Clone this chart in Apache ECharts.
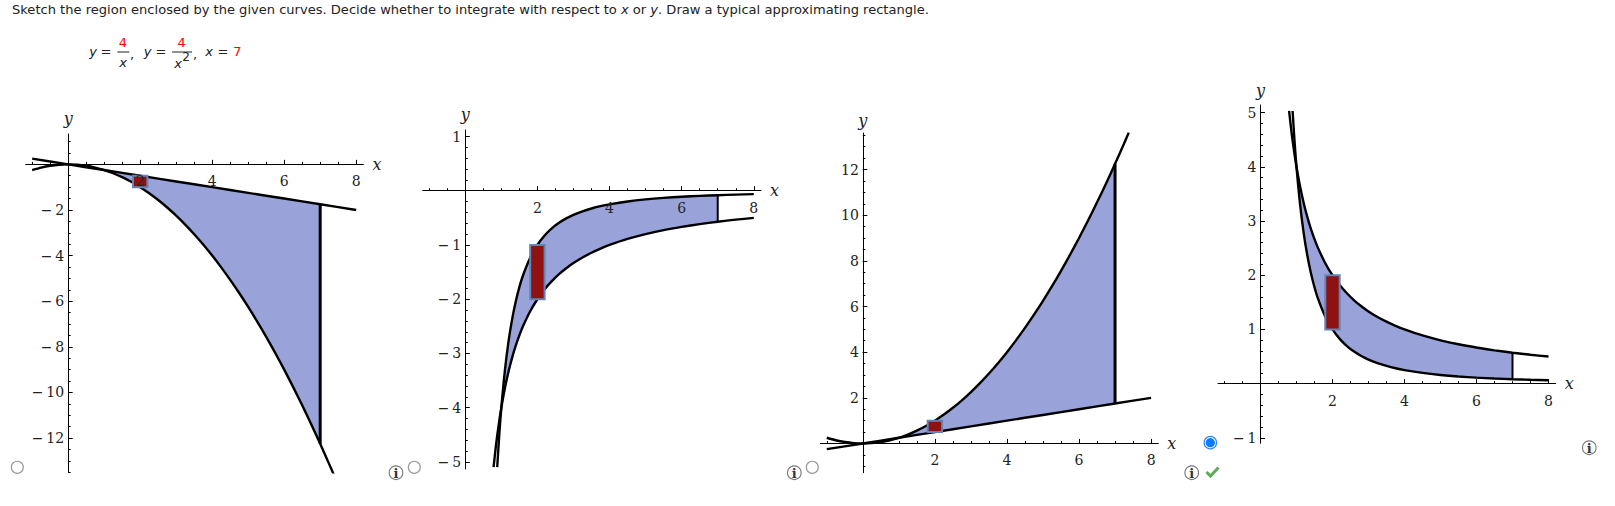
<!DOCTYPE html>
<html><head><meta charset="utf-8">
<style>html,body{margin:0;padding:0;background:#fff}#c{width:1615px;height:506px}</style>
<script src="https://cdn.jsdelivr.net/npm/echarts@6/dist/echarts.min.js"></script>
</head><body><div id="c"></div>
<script>
// ---- values ----
const parabolaX = [-1,-0.75,-0.5,-0.25,0,0.25,0.5,0.75,1,1.25,1.5,1.75,2,2.25,2.5,2.75,3,3.25,3.5,3.75,4,4.25,4.5,4.75,5,5.25,5.5,5.75,6,6.25,6.5,6.75,7,7.25,7.38];
const parabolaUp = [0.25,0.141,0.0625,0.016,0,0.016,0.0625,0.141,0.25,0.391,0.5625,0.766,1,1.266,1.5625,1.891,2.25,2.641,3.0625,3.516,4,4.516,5.0625,5.641,6.25,6.891,7.5625,8.266,9,9.766,10.5625,11.391,12.25,13.141,13.616];
const parabolaDown = [-0.25,-0.141,-0.0625,-0.016,0,-0.016,-0.0625,-0.141,-0.25,-0.391,-0.5625,-0.766,-1,-1.266,-1.5625,-1.891,-2.25,-2.641,-3.0625,-3.516,-4,-4.516,-5.0625,-5.641,-6.25,-6.891,-7.5625,-8.266,-9,-9.766,-10.5625,-11.391,-12.25,-13.141,-13.616];
const slopeX = [-1,0,1,2,3,4,5,6,7,8];
const slopeUp = [-0.25,0,0.25,0.5,0.75,1,1.25,1.5,1.75,2];
const slopeDown = [0.25,0,-0.25,-0.5,-0.75,-1,-1.25,-1.5,-1.75,-2];
const hyperUpX = [0.795,0.85,0.89,0.95,1,1.1,1.2,1.3,1.4,1.5,1.6,1.8,2,2.2,2.4,2.6,2.8,3,3.25,3.5,3.75,4,4.5,5,5.5,6,6.5,7,7.5,8];
const hyperUp = [5.03,4.706,4.494,4.211,4,3.636,3.333,3.077,2.857,2.667,2.5,2.222,2,1.818,1.667,1.538,1.429,1.333,1.231,1.143,1.067,1,0.889,0.8,0.727,0.667,0.615,0.571,0.533,0.5];
const hyperDownX = [0.785,0.85,0.89,0.95,1,1.1,1.2,1.3,1.4,1.5,1.6,1.8,2,2.2,2.4,2.6,2.8,3,3.25,3.5,3.75,4,4.5,5,5.5,6,6.5,7,7.5,8];
const hyperDown = [-5.096,-4.706,-4.494,-4.211,-4,-3.636,-3.333,-3.077,-2.857,-2.667,-2.5,-2.222,-2,-1.818,-1.667,-1.538,-1.429,-1.333,-1.231,-1.143,-1.067,-1,-0.889,-0.8,-0.727,-0.667,-0.615,-0.571,-0.533,-0.5];
const squareUpX = [0.892,0.95,1,1.1,1.2,1.3,1.4,1.5,1.6,1.8,2,2.2,2.4,2.6,2.8,3,3.25,3.5,3.75,4,4.5,5,5.5,6,6.5,7,7.5,8];
const squareUp = [5.03,4.432,4,3.306,2.778,2.367,2.041,1.778,1.5625,1.235,1,0.826,0.694,0.592,0.51,0.444,0.379,0.327,0.284,0.25,0.198,0.16,0.132,0.111,0.095,0.082,0.071,0.0625];
const squareDownX = [0.886,0.95,1,1.1,1.2,1.3,1.4,1.5,1.6,1.8,2,2.2,2.4,2.6,2.8,3,3.25,3.5,3.75,4,4.5,5,5.5,6,6.5,7,7.5,8];
const squareDown = [-5.096,-4.432,-4,-3.306,-2.778,-2.367,-2.041,-1.778,-1.5625,-1.235,-1,-0.826,-0.694,-0.592,-0.51,-0.444,-0.379,-0.327,-0.284,-0.25,-0.198,-0.16,-0.132,-0.111,-0.095,-0.082,-0.071,-0.0625];
const xLabels = [2,4,6,8];
const yLabels1 = [-12,-10,-8,-6,-4,-2];
const yLabels2 = [-5,-4,-3,-2,-1,1];
const yLabels3 = [2,4,6,8,10,12];
const yLabels4 = [-1,1,2,3,4,5];
const rect1 = [1.8,2.2,-1,-0.5];
const rect2 = [1.8,2.2,-2,-1];
const rect3 = [1.8,2.2,0.5,1];
const rect4 = [1.8,2.2,1,2];
const leftBound = 1, rightBound = 7;

const BLACK='#000', FILL='#99a3da', RED='#8f1212', EDGE='#6285b8';
const SERIF='"DejaVu Serif"', SANS='"DejaVu Sans"';

function ticks(a,b,s){const o=[];for(let v=a;v<=b+1e-9;v+=s)o.push(+v.toFixed(3));return o;}
const pairs=(xs,ys)=>xs.map((x,i)=>[x,ys[i]]);

const panels=[
 {left:25.7,top:134,w:337.7,h:338.3,yMin:-13.5,yMax:1.33,a:[parabolaX,parabolaDown],b:[slopeX,slopeDown],rect:rect1,yL:yLabels1,yMajor:ticks(-12,0,2),yMinor:ticks(-13.5,1,0.5),vw:3,lw:2.4,yGap:8},
 {left:422.7,top:130,w:338.3,h:339,yMin:-5.13,yMax:1.12,a:[hyperDownX,hyperDown],b:[squareDownX,squareDown],rect:rect2,yL:yLabels2,yMajor:ticks(-5,1,1),yMinor:ticks(-5,1,0.2),vw:2,lw:2.4,yGap:8},
 {left:820.3,top:133,w:338,h:339.7,yMin:-1.28,yMax:13.6,a:[parabolaX,parabolaUp],b:[slopeX,slopeUp],rect:rect3,yL:yLabels3,yMajor:ticks(0,12,2),yMinor:ticks(-1,13.5,0.5),vw:3,lw:2.4,yGap:5},
 {left:1218,top:105,w:337.7,h:338.3,yMin:-1.1,yMax:5.14,a:[hyperUpX,hyperUp],b:[squareUpX,squareUp],rect:rect4,yL:yLabels4,yMajor:ticks(-1,5,1),yMinor:ticks(-1,5,0.2),vw:2,lw:2.4,yGap:7}
];

const minus=v=>String(v).replace('-','\u2212\u2009');
const grid=[],xAxis=[],yAxis=[],series=[];
const xMin=-1.18,xMax=8.2;
panels.forEach((p,i)=>{
  const gi=grid.length;
  const g={left:p.left,top:p.top,width:p.w,height:p.h,containLabel:false,outerBoundsMode:'none'};
  grid.push(g,{...g});
  const belowZero=p.h*(-p.yMin)/(p.yMax-p.yMin);
  const leftOfZero=p.w*(-xMin)/(xMax-xMin);
  xAxis.push({
    type:'value',gridIndex:gi,min:xMin,max:xMax,z:10,splitLine:{show:false},
    name:'x',nameLocation:'end',nameGap:9,
    nameTextStyle:{fontFamily:SERIF,fontStyle:'italic',fontSize:16,color:'#222',verticalAlign:'middle',align:'left'},
    axisLine:{onZero:true,lineStyle:{color:BLACK,width:1}},
    axisTick:{show:true,inside:true,length:4.5,customValues:ticks(-1,8,1).filter(v=>v%2===0&&v!==0),lineStyle:{color:BLACK,width:1}},
    axisLabel:{show:true,customValues:xLabels,margin:10-belowZero,fontFamily:SERIF,fontSize:14,color:'#222',hideOverlap:false,formatter:minus}
  },{
    type:'value',gridIndex:gi+1,min:xMin,max:xMax,splitLine:{show:false},z:10,
    axisLine:{show:false,onZero:true},
    axisTick:{show:true,inside:true,length:2.5,customValues:ticks(-1,8,0.5).filter(v=>v!==0),lineStyle:{color:BLACK,width:1}},
    axisLabel:{show:false}
  });
  yAxis.push({
    type:'value',gridIndex:gi,min:p.yMin,max:p.yMax,z:10,splitLine:{show:false},
    name:'y',nameLocation:'end',nameGap:p.yGap,
    nameTextStyle:{fontFamily:SERIF,fontStyle:'italic',fontSize:16,color:'#222',align:'center',verticalAlign:'bottom'},
    axisLine:{onZero:true,lineStyle:{color:BLACK,width:1}},
    axisTick:{show:true,inside:true,length:4.5,customValues:p.yMajor.filter(v=>v!==0),lineStyle:{color:BLACK,width:1}},
    axisLabel:{show:true,customValues:p.yL,margin:4-leftOfZero,fontFamily:SERIF,fontSize:14,color:'#222',hideOverlap:false,formatter:minus}
  },{
    type:'value',gridIndex:gi+1,min:p.yMin,max:p.yMax,splitLine:{show:false},z:10,
    axisLine:{show:false,onZero:true},
    axisTick:{show:true,inside:true,length:2.5,customValues:p.yMinor.filter(v=>v!==0),lineStyle:{color:BLACK,width:1}},
    axisLabel:{show:false}
  });
  const inside=(c)=>pairs(c[0],c[1]).filter(q=>q[0]>=leftBound&&q[0]<=rightBound);
  const upper=inside(p.a), lower=inside(p.b);
  // shaded region between the two curves
  series.push({
    type:'custom',xAxisIndex:gi,yAxisIndex:gi,z:1,silent:true,clip:true,
    data:[[leftBound,0]],
    renderItem:(ps,api)=>({
      type:'polygon',
      shape:{points:upper.concat(lower.slice().reverse()).map(q=>api.coord(q))},
      style:{fill:FILL,stroke:null}
    })
  });
  const lineS=(d,w)=>({type:'line',xAxisIndex:gi,yAxisIndex:gi,z:3,silent:true,symbol:'none',smooth:0.25,clip:true,animation:false,
      lineStyle:{color:BLACK,width:w},data:d});
  series.push(lineS(pairs(p.a[0],p.a[1]),p.lw));
  series.push(lineS(pairs(p.b[0],p.b[1]),p.lw));
  // right-hand boundary x = 7
  const uy=upper[upper.length-1][1], ly=lower[lower.length-1][1];
  series.push({...lineS([[rightBound,uy],[rightBound,ly]],p.vw),smooth:false});
  // typical approximating rectangle
  series.push({
    type:'custom',xAxisIndex:gi,yAxisIndex:gi,z:4,silent:true,clip:false,
    data:[p.rect],encode:{x:[0,1],y:[2,3]},
    renderItem:(ps,api)=>{
      const a=api.coord([api.value(0),api.value(3)]), b=api.coord([api.value(1),api.value(2)]);
      return {type:'rect',shape:{x:a[0],y:a[1],width:b[0]-a[0],height:b[1]-a[1]},style:{fill:RED,stroke:EDGE,lineWidth:2}};
    }
  });
});

const T=(x,y,text,o={})=>({type:'text',x,y,z:50,silent:true,style:{text,fontFamily:SANS,fontSize:13,fill:'#222',align:'center',verticalAlign:'middle',...o}});
const L=(x1,x2,y,c='#222')=>({type:'line',z:50,silent:true,shape:{x1,y1:y,x2,y2:y},style:{stroke:c,lineWidth:1}});
const radio=(x,y)=>({type:'circle',z:50,silent:true,shape:{cx:x,cy:y,r:6},style:{fill:'#fff',stroke:'#9a9a9a',lineWidth:1.2}});
const info=(x,y)=>([
  {type:'circle',z:50,silent:true,shape:{cx:x,cy:y,r:6.8},style:{fill:'#fff',stroke:'#777',lineWidth:1.1}},
  T(x,y+0.5,'i',{fontFamily:SERIF,fontWeight:'bold',fontSize:13,fill:'#333'})
]);
const IT={fontStyle:'italic'}, RD={fill:'#f00'};
const graphic=[
  T(12,9,'Sketch the region enclosed by the given curves. Decide whether to integrate with respect to {i|x} or {i|y}. Draw a typical approximating rectangle.',
    {align:'left',fontSize:13.05,rich:{i:{fontStyle:'italic',fontFamily:SANS,fontSize:13.05,fill:'#222'}}}),
  T(93,51,'y',IT),T(106,51,'='),T(123,42,'4',RD),L(117.3,129.3,52),T(123,62,'x',IT),T(132,54,','),
  T(147.7,51,'y',IT),T(161,51,'='),T(181.7,42,'4',RD),L(172,192,52),T(178,63,'x',IT),T(186,57,'2',{fontSize:12}),T(195,54,','),
  T(209,51,'x',IT),T(223,51,'='),T(237.3,51,'7',RD),
  radio(17.3,467.3),radio(414.3,467.3),radio(812.3,467.3),
  {type:'circle',z:50,silent:true,shape:{cx:1210.3,cy:442.7,r:4.6},style:{fill:'#0a7cff',stroke:null}},
  {type:'circle',z:49,silent:true,shape:{cx:1210.3,cy:442.7,r:6.2},style:{fill:'#fff',stroke:'#2a86ff',lineWidth:1.2}},
  ...info(396,472.7),...info(794.3,472.7),...info(1191.7,472.7),...info(1589.3,447.7),
  {type:'polyline',z:50,silent:true,shape:{points:[[1206.5,472],[1210.5,476],[1218.5,467.5]]},style:{stroke:'#5cab5c',lineWidth:3,fill:null}}
];

const chart=echarts.init(document.getElementById('c'),null,{renderer:'svg'});
chart.setOption({animation:false,backgroundColor:'#fff',grid,xAxis,yAxis,series,graphic});
</script></body></html>
